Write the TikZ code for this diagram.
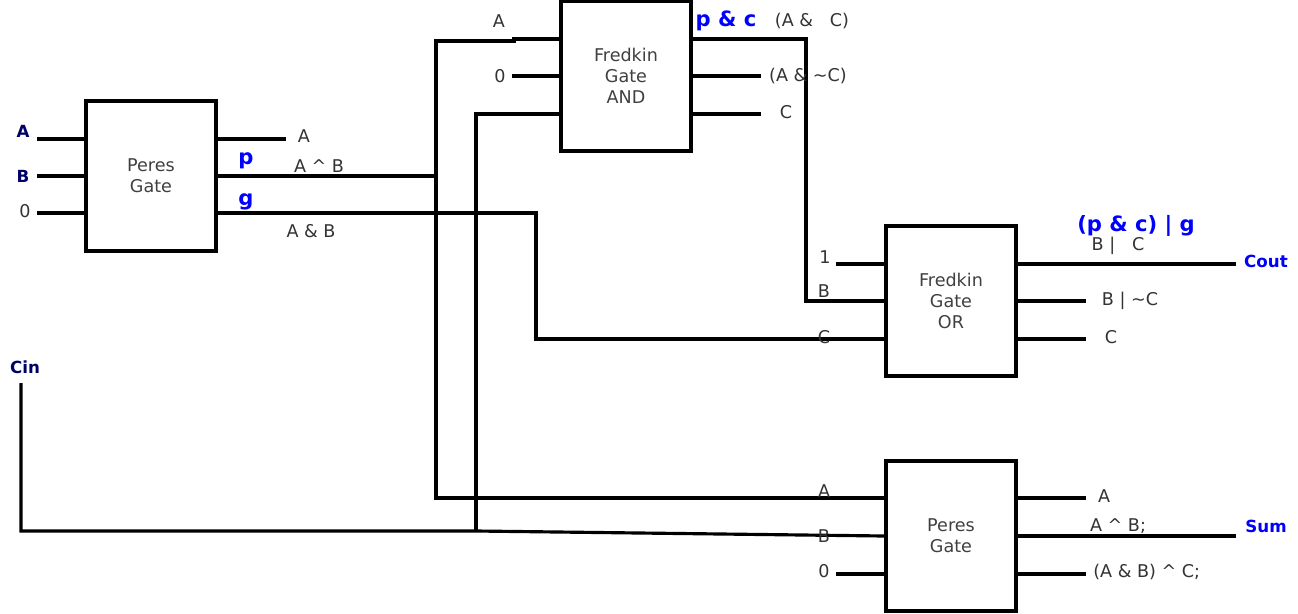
\documentclass[tikz,border=0pt]{standalone}
\usepackage{fontspec}
\setmainfont{DejaVu Sans}
\begin{document}
\begin{tikzpicture}[x=0.02cm,y=-0.02cm,
  box/.style={draw,line width=1.8pt,minimum width=2.6cm,minimum height=3cm,align=center,inner sep=0pt,font=\fontsize{10}{12}\selectfont,text=black!75},
  w/.style={line width=1.8pt},
  lbl/.style={font=\fontsize{10}{12}\selectfont,text=black!80,inner sep=0pt},
  io/.style={font=\fontsize{9.5}{11}\selectfont\bfseries,text=blue!40!black,inner sep=0pt},
  blu/.style={font=\fontsize{12}{14}\selectfont\bfseries,text=blue,inner sep=0pt},
  iob/.style={font=\fontsize{9.5}{11}\selectfont\bfseries,text=blue,inner sep=0pt}]
\useasboundingbox (0,0) rectangle (1298,613);
\node[box] (P1) at (151,176) {Peres\\Gate};
\node[box] (F1) at (626,76) {Fredkin\\Gate\\AND};
\node[box] (F2) at (951,301) {Fredkin\\Gate\\OR};
\node[box] (P2) at (951,536) {Peres\\Gate};
% coordinates
\coordinate (a1) at (37,139); \coordinate (b1) at (37,176); \coordinate (z1) at (37,213);
\coordinate (o1) at (286,139);
\coordinate (j1) at (436,176); \coordinate (j1t) at (436,41); \coordinate (j1s) at (514,41); \coordinate (j1u) at (514,39);
\coordinate (j1b) at (436,498);
\coordinate (g1) at (536,213); \coordinate (g2) at (536,339);
\coordinate (z2) at (512,76);
\coordinate (c1) at (476,114); \coordinate (c2) at (476,531);
\coordinate (cin) at (21,383); \coordinate (cin2) at (21,531);
\coordinate (r1) at (806,39); \coordinate (r2) at (806,301);
\coordinate (o2) at (761,76); \coordinate (o3) at (761,114);
\coordinate (one) at (836,264); \coordinate (zz) at (836,574);
\coordinate (cout) at (1236,264); \coordinate (o4) at (1086,301); \coordinate (o5) at (1086,339);
\coordinate (sum) at (1236,536); \coordinate (o6) at (1086,498); \coordinate (o7) at (1086,574);
% wires
\draw[w] (a1) -- (a1-|P1.west); \draw[w] (b1) -- (b1-|P1.west); \draw[w] (z1) -- (z1-|P1.west);
\draw[w] (o1-|P1.east) -- (o1);
\draw[w] (j1-|P1.east) -- (j1);
\draw[w] (g1-|P1.east) -- (g1) -- (g2) -- (g2-|F2.west);
\draw[w] (j1b-|P2.west) -- (j1b) -- (j1t) -- (j1s) -- (j1u) -- (j1u-|F1.west);
\draw[w] (z2) -- (z2-|F1.west);
\draw[w] (c1-|F1.west) -- (c1) -- (c2);
\draw[w] (cin) -- (cin2) -- (c2) -- (P2.west);
\draw[w] (r1-|F1.east) -- (r1) -- (r2) -- (r2-|F2.west);
\draw[w] (o2-|F1.east) -- (o2); \draw[w] (o3-|F1.east) -- (o3);
\draw[w] (one) -- (one-|F2.west);
\draw[w] (cout-|F2.east) -- (cout); \draw[w] (o4-|F2.east) -- (o4); \draw[w] (o5-|F2.east) -- (o5);
\draw[w] (zz) -- (zz-|P2.west);
\draw[w] (sum-|P2.east) -- (sum); \draw[w] (o6-|P2.east) -- (o6); \draw[w] (o7-|P2.east) -- (o7);
% labels
\node[io] (lA) at (23,131) {A}; \node[io] (lB) at (23,176) {B}; \node[lbl] (l0) at (25,211) {0};
\node[io] (lCin) at (25,367) {Cin};
\node[lbl] (t1) at (304,136) {A}; \node[blu] (tp) at (246,161) {p}; \node[lbl] (t2) at (319,166) {A \^{} B};
\node[blu] (tg) at (246,202) {g}; \node[lbl] (t3) at (311,231) {A \& B};
\node[lbl] (t4) at (499,21) {A}; \node[lbl] (t5) at (500,76) {0};
\node[blu] (tpc) at (726,21) {p \& c}; \node[lbl] (t6) at (812,21) {(A \&\ \ \ C)};
\node[lbl] (t7) at (808,76) {(A \& \textasciitilde C)}; \node[lbl] (t8) at (786,112) {C};
\node[lbl] (t9) at (825,257) {1}; \node[lbl] (t10) at (824,291) {B}; \node[lbl] (t11) at (824,337) {C};
\node[blu] (tpcg) at (1136,226) {(p \& c) | g}; \node[lbl] (t12) at (1118,246) {B |\ \ \ C};
\node[iob] (tcout) at (1266,261) {Cout};
\node[lbl] (t13) at (1130,301) {B | \textasciitilde C}; \node[lbl] (t14) at (1111,337) {C};
\node[lbl] (t15) at (824,491) {A}; \node[lbl] (t16) at (824,536) {B}; \node[lbl] (t17) at (824,571) {0};
\node[lbl] (t18) at (1104,496) {A}; \node[lbl] (t19) at (1118,526) {A \^{} B;};
\node[iob] (tsum) at (1266,526) {Sum}; \node[lbl,anchor=west] (t20) at (1093,572) {(A \& B) \^{} C;};
\end{tikzpicture}
\end{document}
